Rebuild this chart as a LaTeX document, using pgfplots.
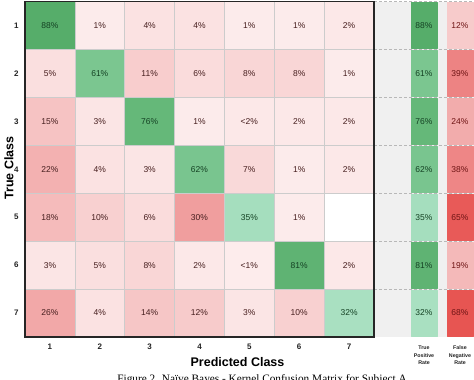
\documentclass[border=0pt]{standalone}
\usepackage{pgfplots}
\pgfplotsset{compat=1.18}
\usepackage{pgfplotstable}
\usepgfplotslibrary{patchplots}
\usepackage{fontspec}
\setmainfont{Liberation Sans}
\newfontfamily\capfont{Liberation Serif}
\definecolor{sidegray}{RGB}{240,240,240}
\definecolor{gtext}{RGB}{20,65,35}
\definecolor{rtext}{RGB}{70,30,30}
\definecolor{fnrtext}{RGB}{110,20,20}
\definecolor{ticktext}{RGB}{35,35,35}

\pgfplotsset{colormap={cm}{
 rgb255(0pt)=(255,255,255)
 rgb255(5pt)=(255,255,255)
 rgb255(10pt)=(253,238,238)
 rgb255(20pt)=(248,208,208)
 rgb255(30pt)=(244,182,182)
 rgb255(40pt)=(240,158,158)
 rgb255(50pt)=(237,128,128)
 rgb255(75pt)=(232,90,88)
 rgb255(80pt)=(231,82,78)
 rgb255(110pt)=(220,50,50)
 rgb255(200pt)=(220,245,230)
 rgb255(230pt)=(172,226,195)
 rgb255(235pt)=(165,222,190)
 rgb255(260pt)=(124,199,146)
 rgb255(275pt)=(102,185,122)
 rgb255(288pt)=(86,173,106)
 rgb255(300pt)=(75,165,95)
}}

% cell colour code: off-diagonal = 10 + value (red scale), diagonal = 200 + value (green scale), 0 = blank
\pgfplotstableread{
x y c
1 1 288
2 1 11
3 1 14
4 1 14
5 1 11
6 1 11
7 1 12
1 2 15
2 2 261
3 2 21
4 2 16
5 2 18
6 2 18
7 2 11
1 3 25
2 3 13
3 3 276
4 3 11
5 3 12
6 3 12
7 3 12
1 4 32
2 4 14
3 4 13
4 4 262
5 4 17
6 4 11
7 4 12
1 5 28
2 5 20
3 5 16
4 5 40
5 5 235
6 5 11
7 5 0
1 6 13
2 6 15
3 6 18
4 6 12
5 6 10.5
6 6 281
7 6 12
1 7 36
2 7 14
3 7 24
4 7 22
5 7 13
6 7 20
7 7 232
}\cells

\pgfplotstableread{
x y t
1 1 88
2 2 61
3 3 76
4 4 62
5 5 35
6 6 81
7 7 32
}\diaglab

\pgfplotstableread{
x y t
2 1 1
3 1 4
4 1 4
5 1 1
6 1 1
7 1 2
1 2 5
3 2 11
4 2 6
5 2 8
6 2 8
7 2 1
1 3 15
2 3 3
4 3 1
5 3 <2
6 3 2
7 3 2
1 4 22
2 4 4
3 4 3
5 4 7
6 4 1
7 4 2
1 5 18
2 5 10
3 5 6
4 5 30
6 5 1
1 6 3
2 6 5
3 6 8
4 6 2
5 6 <1
7 6 2
1 7 26
2 7 4
3 7 14
4 7 12
5 7 3
6 7 10
}\offlab

% side bars: rectangles (4 corners each); colour code as above
\pgfplotstableread{
x y c
411 0.52 288
437 0.52 288
437 1.48 288
411 1.48 288
411 1.52 261
437 1.52 261
437 2.48 261
411 2.48 261
411 2.52 276
437 2.52 276
437 3.48 276
411 3.48 276
411 3.52 262
437 3.52 262
437 4.48 262
411 4.48 262
411 4.52 235
437 4.52 235
437 5.48 235
411 5.48 235
411 5.52 281
437 5.52 281
437 6.48 281
411 6.48 281
411 6.52 232
437 6.52 232
437 7.48 232
411 7.48 232
447 0.52 22
473 0.52 22
473 1.48 22
447 1.48 22
447 1.52 49
473 1.52 49
473 2.48 49
447 2.48 49
447 2.52 34
473 2.52 34
473 3.48 34
447 3.48 34
447 3.52 48
473 3.52 48
473 4.48 48
447 4.48 48
447 4.52 75
473 4.52 75
473 5.48 75
447 5.48 75
447 5.52 29
473 5.52 29
473 6.48 29
447 6.48 29
447 6.52 78
473 6.52 78
473 7.48 78
447 7.48 78
}\side

\pgfplotstableread{
x y t
424 1 88
424 2 61
424 3 76
424 4 62
424 5 35
424 6 81
424 7 32
}\tprlab

\pgfplotstableread{
x y t
460 1 12
460 2 39
460 3 24
460 4 38
460 5 65
460 6 19
460 7 68
}\fnrlab

\begin{document}
\begin{tikzpicture}
% side panel
\begin{axis}[
  at={(374pt,43pt)}, anchor=south west, scale only axis,
  width=100pt, height=335.5pt,
  xmin=374, xmax=474, ymin=0.5, ymax=7.5, y dir=reverse,
  axis background/.style={fill=sidegray},
  axis line style={draw=none}, tick style={draw=none},
  xtick=\empty, ytick={0.5,1.5,2.5,3.5,4.5,5.5,6.5}, yticklabels={},
  ymajorgrids, grid style={dash pattern=on 3pt off 2pt, black!28, line width=0.6pt},
  colormap name=cm, point meta min=0, point meta max=300, clip=false]
\addplot[patch, patch type=rectangle, shader=flat, point meta=explicit] table[meta=c] {\side};
\addplot[only marks, mark=none, point meta=explicit symbolic,
  nodes near coords={\pgfplotspointmeta\%},
  every node near coord/.append style={anchor=center, text=gtext, font=\fontsize{8.5}{9}\selectfont}]
  table[meta=t] {\tprlab};
\addplot[only marks, mark=none, point meta=explicit symbolic,
  nodes near coords={\pgfplotspointmeta\%},
  every node near coord/.append style={anchor=center, text=fnrtext, font=\fontsize{8.5}{9}\selectfont}]
  table[meta=t] {\fnrlab};
\end{axis}
% confusion matrix
\begin{axis}[
  at={(25pt,43pt)}, anchor=south west, scale only axis,
  width=349pt, height=335.5pt,
  xmin=0.5, xmax=7.5, ymin=0.5, ymax=7.5, y dir=reverse,
  xtick={1,...,7}, ytick={1,...,7},
  tick style={draw=none},
  /pgf/number format/assume math mode=true,
  ticklabel style={font=\bfseries\fontsize{8}{9}\selectfont, text=ticktext},
  yticklabel style={xshift=-3pt},
  xticklabel style={yshift=-3pt},
  axis line style={line width=1.3pt, black!85},
  axis on top,
  colormap name=cm, point meta min=0, point meta max=300]
\addplot[matrix plot*, mesh/cols=7, point meta=explicit, draw=black!20, line width=0.5pt] table[meta=c] {\cells};
\addplot[only marks, mark=none, point meta=explicit symbolic,
  nodes near coords={\pgfplotspointmeta\%},
  every node near coord/.append style={anchor=center, text=gtext, font=\fontsize{8.5}{9}\selectfont}]
  table[meta=t] {\diaglab};
\addplot[only marks, mark=none, point meta=explicit symbolic,
  nodes near coords={\pgfplotspointmeta\%},
  every node near coord/.append style={anchor=center, text=rtext, font=\fontsize{8.5}{9}\selectfont}]
  table[meta=t] {\offlab};
\end{axis}
\node[font=\bfseries\fontsize{12.5}{14}\selectfont] at (237.5pt,18pt) {Predicted Class};
\node[rotate=90, font=\bfseries\fontsize{12.5}{14}\selectfont] at (9pt,212pt) {True Class};
\node[align=center, font=\bfseries\fontsize{5.3}{7.5}\selectfont, text=ticktext] at (424pt,24.5pt) {True\\Positive\\Rate};
\node[align=center, font=\bfseries\fontsize{5.3}{7.5}\selectfont, text=ticktext] at (460pt,24.5pt) {False\\Negative\\Rate};
\node[font=\capfont\fontsize{11.3}{13}\selectfont, anchor=base] at (262pt,-2.5pt) {Figure 2. Naïve Bayes - Kernel Confusion Matrix for Subject A};
\pgfresetboundingbox
\path[use as bounding box] (0,0) rectangle (474pt,380pt);
\end{tikzpicture}
\end{document}
